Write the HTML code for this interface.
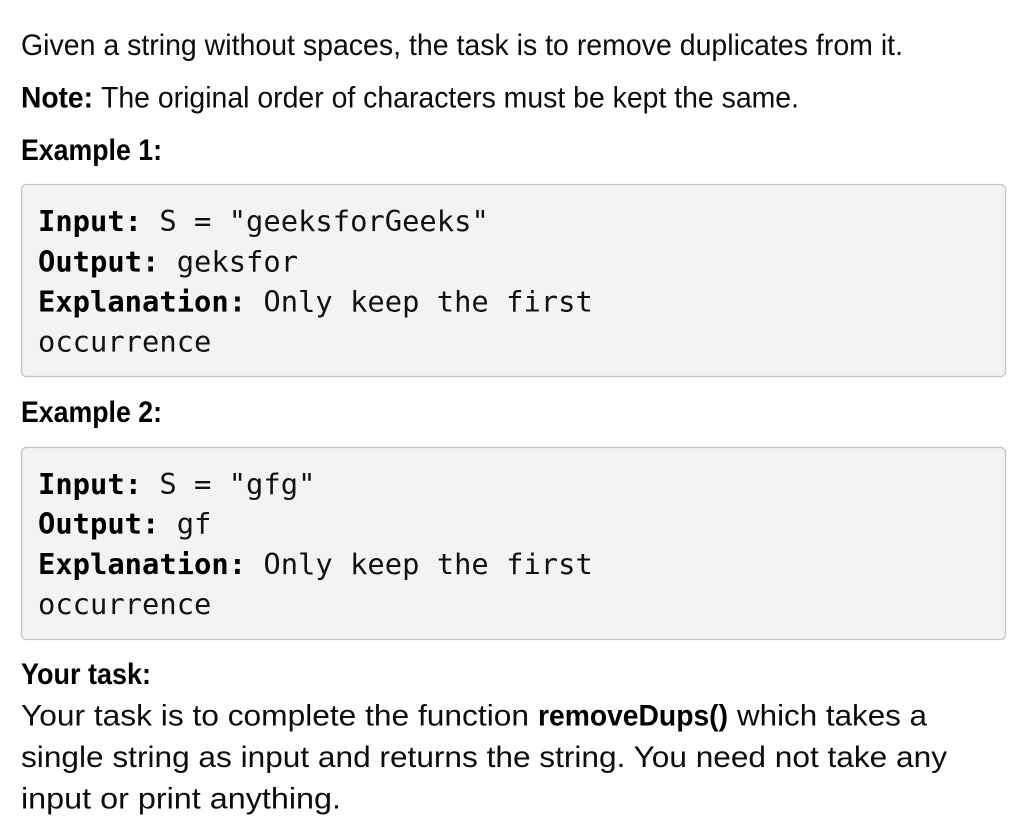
<!DOCTYPE html>
<html lang="en">
<head>
<meta charset="utf-8">
<title>Remove duplicates</title>
<style>
html,body{margin:0;padding:0;background:#fff;width:1024px;height:822px;overflow:hidden}
svg{display:block}
.s{font-family:"Liberation Sans",sans-serif;font-size:30px;fill:#0c0c0c}
.b{font-weight:bold;font-size:29.500px;fill:#000}
.m{font-family:"DejaVu Sans Mono",monospace;font-size:28.8px;fill:#111}
.m tspan{font-weight:bold;fill:#000}
</style>
</head>
<body>
<svg width="1024" height="822" viewBox="0 0 1024 822" xmlns="http://www.w3.org/2000/svg">
<rect x="21.5" y="184.5" width="984" height="192" rx="5" fill="#f3f3f3" stroke="#c4c4c4" stroke-width="1.3"/>
<rect x="21.5" y="447.5" width="984" height="192" rx="5" fill="#f3f3f3" stroke="#c4c4c4" stroke-width="1.3"/>

<text class="s" x="21" y="55" textLength="882" lengthAdjust="spacingAndGlyphs">Given a string without spaces, the task is to remove duplicates from it.</text>
<text class="s b" x="21" y="107.500" textLength="72" lengthAdjust="spacingAndGlyphs">Note:</text>
<text class="s" x="101" y="107.500" textLength="698" lengthAdjust="spacingAndGlyphs">The original order of characters must be kept the same.</text>
<text class="s b" x="21" y="160" textLength="141" lengthAdjust="spacingAndGlyphs">Example 1:</text>

<text class="m" x="38" y="231" xml:space="preserve"><tspan>Input:</tspan> S = "geeksforGeeks"</text>
<text class="m" x="38" y="271.500" xml:space="preserve"><tspan>Output:</tspan> geksfor</text>
<text class="m" x="38" y="311.500" xml:space="preserve"><tspan>Explanation:</tspan> Only keep the first</text>
<text class="m" x="38" y="351.500" xml:space="preserve">occurrence</text>

<text class="s b" x="21" y="422" textLength="141" lengthAdjust="spacingAndGlyphs">Example 2:</text>

<text class="m" x="38" y="494" xml:space="preserve"><tspan>Input:</tspan> S = "gfg"</text>
<text class="m" x="38" y="533.500" xml:space="preserve"><tspan>Output:</tspan> gf</text>
<text class="m" x="38" y="574" xml:space="preserve"><tspan>Explanation:</tspan> Only keep the first</text>
<text class="m" x="38" y="614" xml:space="preserve">occurrence</text>

<text class="s b" x="21" y="684" textLength="130" lengthAdjust="spacingAndGlyphs">Your task:</text>
<text class="s" x="21" y="725.500" textLength="508" lengthAdjust="spacingAndGlyphs">Your task is to complete the function</text>
<text class="s b" x="538" y="725.500" textLength="190" lengthAdjust="spacingAndGlyphs">removeDups()</text>
<text class="s" x="737" y="725.500" textLength="190" lengthAdjust="spacingAndGlyphs">which takes a</text>
<text class="s" x="21" y="767" textLength="926" lengthAdjust="spacingAndGlyphs">single string as input and returns the string. You need not take any</text>
<text class="s" x="21" y="808.500" textLength="320" lengthAdjust="spacingAndGlyphs">input or print anything.</text>
</svg>
</body>
</html>
